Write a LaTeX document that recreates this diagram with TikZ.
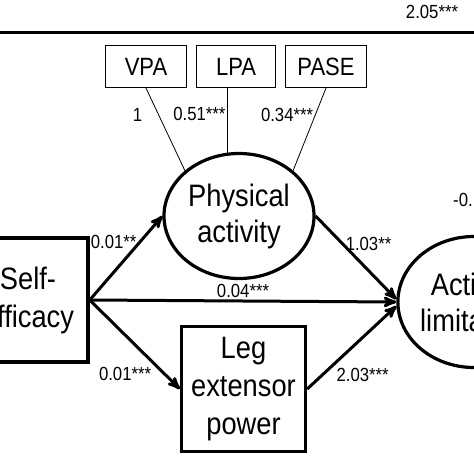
\documentclass[tikz,border=0pt]{standalone}
\usepackage{fontspec}
\setmainfont{Liberation Sans}[FakeStretch=0.88]
\usetikzlibrary{arrows}
\usetikzlibrary{shapes.geometric}

\begin{document}
\begin{tikzpicture}[x=1pt, y=-1pt, >=stealth', node distance=90pt]
    \tikzstyle{latent}=[ellipse,draw=black,line width=3.2pt,align=center,inner sep=0pt,font=\fontsize{31}{36}\selectfont]
    \tikzstyle{observed}=[rectangle,draw=black,line width=3.4pt,align=center,inner sep=0pt,font=\fontsize{31}{38}\selectfont]
    \tikzstyle{indicator}=[rectangle,draw=black,line width=1.2pt,minimum width=81pt,minimum height=42pt,inner sep=0pt,font=\fontsize{25}{28}\selectfont]
    \tikzstyle{effect}=[->,line width=3pt]
    \tikzstyle{loading}=[line width=0.8pt]
    \tikzstyle{coef}=[font=\fontsize{19}{20}\selectfont,inner sep=2pt]
    \useasboundingbox (0,0) rectangle (474,474);

    \node[observed,minimum width=120pt,minimum height=124pt]	(se)	at (28,300)		{Self-\\efficacy};
    \node[latent,minimum width=150pt,minimum height=125pt]		(pa)	at (239,216)	{Physical\\activity};
    \node[latent,minimum width=152pt,minimum height=131pt]		(al)	at (474,302)	{Activity\\limitation};
    \node[observed,minimum width=124pt,minimum height=125pt]	(lep)	at (243.5,389)	{Leg\\extensor\\power};
    \node[indicator]					(vpa)	at (146,66.5)	{VPA};
    \node[indicator,minimum width=79pt]	(lpa)	[right of=vpa]	{LPA};
    \node[indicator]					(pase)	[right of=lpa]	{PASE};

    % total effect, upper panel
    \coordinate (tl) at (0,32);
    \coordinate (tr) at (474,32);
    \draw[line width=3pt] (tl) -- (tr);
    \node[coef]					(tot)	at (432,12)		{2.05***};
    \node[coef,anchor=west]		(dir)	at (451,200)	{-0.};

    % measurement model
    \draw[loading] (vpa.south) -- (pa.140) node[coef,pos=0.32,left,xshift=-14pt,name=l1] {1};
    \draw[loading] (pa.100 |- lpa.south) -- (pa.100) node[coef,pos=0.4,left,name=l2] {0.51***};
    \draw[loading] (pase.south) -- (pa.40) node[coef,pos=0.32,left,name=l3] {0.34***};

    \path[effect]
    (se.east)
      edge	node[coef,pos=0.69,anchor=east,name=b1]{0.01**}			(pa.west)
      edge	node[coef,midway,above,name=b2]{0.04***}				(al.west)
      edge	node[coef,pos=0.72,anchor=north east,name=b3]{0.01***}	(lep.west)
    (pa.east)
      edge	node[coef,pos=0.33,anchor=west,name=b4]{1.03**}			(al.178)
    (lep.east)
      edge	node[coef,pos=0.29,anchor=north west,name=b5]{2.03***}	(al.183);
\end{tikzpicture}
\end{document}
